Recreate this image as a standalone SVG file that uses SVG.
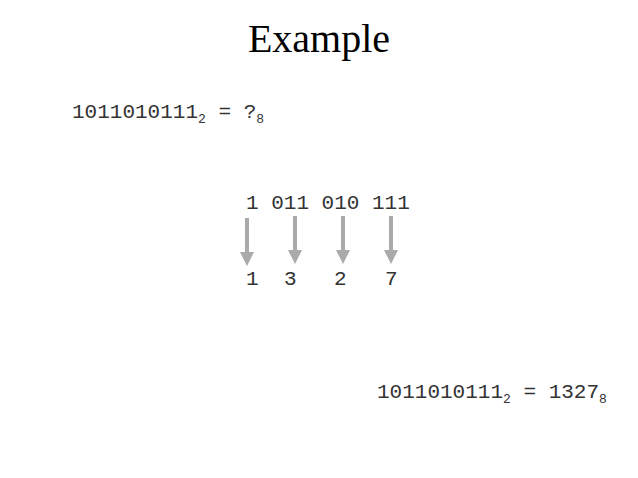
<svg xmlns="http://www.w3.org/2000/svg" width="638" height="478" viewBox="0 0 638 478">
<style>
.m{font-family:"Liberation Mono",monospace;font-size:21px;fill:#333}
.s{font-size:13px}
.t{font-family:"Liberation Serif",serif;font-size:40px;fill:#000}
.a{fill:#aaa}
</style>
<rect width="638" height="478" fill="#fff"/>
<text id="title" class="t" x="319" y="52" text-anchor="middle">Example</text>
<text id="q" class="m" x="72" y="118">1011010111<tspan class="s" dy="5">2</tspan><tspan dy="-5"> = ?</tspan><tspan class="s" dy="5">8</tspan></text>
<text id="groups" class="m" x="246" y="209" xml:space="preserve">1 011 010 111</text>
<text id="digits" class="m" y="285"><tspan x="246">1</tspan><tspan x="284">3</tspan><tspan x="334">2</tspan><tspan x="385">7</tspan></text>
<g id="connectors" class="a">
<path d="M245 218h4v34h5l-7 14l-7-14h5z"/>
<path d="M293 216h4v34h5l-7 14l-7-14h5z"/>
<path d="M341 216h4v34h5l-7 14l-7-14h5z"/>
<path d="M389 216h4v34h5l-7 14l-7-14h5z"/>
</g>
<text id="ans" class="m" x="377" y="398">1011010111<tspan class="s" dy="5">2</tspan><tspan dy="-5"> = 1327</tspan><tspan class="s" dy="5">8</tspan></text>
</svg>
